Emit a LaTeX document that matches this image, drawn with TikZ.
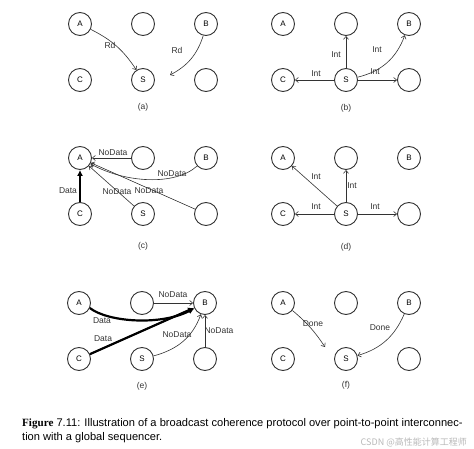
\documentclass[tikz,border=0pt]{standalone}
\usepackage{fontspec}
\setmainfont{Liberation Sans}
\newfontfamily\capserif{Liberation Serif}
\newfontfamily\cjk{Noto Sans CJK SC}
\usetikzlibrary{arrows.meta}
\definecolor{ink}{HTML}{333333}
\definecolor{mark}{HTML}{B8B8B8}

\begin{document}
\begin{tikzpicture}[x=1pt,y=-1pt,
    site/.style={draw=ink,circle,line width=0.9pt,minimum size=23pt,inner sep=0pt,font=\fontsize{8}{9}\selectfont},
    msg/.style={draw=ink,line width=0.6pt,-{Straight Barb[length=3pt,width=5pt]}},
    bigmsg/.style={draw=black,line width=2.2pt,-{Latex[length=6pt,width=6pt]}},
    lbl/.style={text=ink,inner sep=0pt,font=\fontsize{8.5}{10}\selectfont},
    paneltag/.style={text=ink,font=\fontsize{8.5}{10}\selectfont}]
  \useasboundingbox (0,0) rectangle (474,449);

  % six panels of sites
  \foreach \p/\x/\y/\t in {a/80/24/107, b/283/24/108, c/80/158/246, d/283/158/247, e/79/303/386, f/283/303/385} {
    \node[site] (\p A) at (\x,\y) {A};
    \node[site] (\p T) at (\x+63,\y) {};
    \node[site] (\p B) at (\x+126,\y) {B};
    \node[site] (\p C) at (\x,\y+56) {C};
    \node[site] (\p S) at (\x+63,\y+56) {S};
    \node[site] (\p R) at (\x+126,\y+56) {};
    \node[paneltag] (\p tag) at (\x+63,\t) {(\p)};
  }

  % (a) reads
  \coordinate (aend) at (170,75);
  \draw[msg] (aA) to[bend left=15] (aS);
  \draw[msg] (aB) to[bend left=22] (aend);
  \node[lbl] (aRd1) at (110,45) {Rd};
  \node[lbl] (aRd2) at (177,50) {Rd};

  % (b) sequencer interrupts
  \draw[msg] (bS) -- (bT);
  \draw[msg] (bS) -- (bC);
  \draw[msg] (bS) -- (bR);
  \draw[msg] (bS) to[bend right=28] (bB);
  \node[lbl] (bInt1) at (336,55) {Int};
  \node[lbl] (bInt2) at (377,50) {Int};
  \node[lbl] (bInt3) at (316,74) {Int};
  \node[lbl] (bInt4) at (375,72) {Int};

  % (c) replies to A
  \draw[bigmsg] (cC) -- (cA);
  \draw[msg] (cT) -- (cA);
  \draw[msg] (cB) .. controls (175,186) and (125,183) .. (cA);
  \draw[msg] (cS) -- (cA);
  \draw[msg] (cR) -- (cA);
  \node[lbl] (cND1) at (113,153) {NoData};
  \node[lbl] (cND2) at (172,174) {NoData};
  \node[lbl] (cData) at (68,191) {Data};
  \node[lbl] (cND3) at (117,192) {NoData};
  \node[lbl] (cND4) at (149,191) {NoData};

  % (d) sequencer interrupts
  \draw[msg] (dS) -- (dA);
  \draw[msg] (dS) -- (dT);
  \draw[msg] (dS) -- (dC);
  \draw[msg] (dS) -- (dR);
  \node[lbl] (dInt1) at (316,177) {Int};
  \node[lbl] (dInt2) at (352,186) {Int};
  \node[lbl] (dInt3) at (316,207) {Int};
  \node[lbl] (dInt4) at (375,207) {Int};

  % (e) replies to B
  \draw[bigmsg] (eA.-25) .. controls (108,322) and (160,326) .. (eB);
  \draw[bigmsg] (eC) -- (eB);
  \draw[msg] (eT) -- (eB);
  \draw[msg] (eS) to[out=15,in=250] (eB);
  \draw[msg] (eR) -- (eB);
  \node[lbl] (eND1) at (173,295) {NoData};
  \node[lbl] (eData1) at (102,321) {Data};
  \node[lbl] (eData2) at (103,339) {Data};
  \node[lbl] (eND2) at (177,335) {NoData};
  \node[lbl] (eND3) at (219,331) {NoData};

  % (f) done
  \coordinate (fend) at (325,347);
  \draw[msg] (fA) to[bend left=8] (fend);
  \draw[msg] (fB) to[bend left=25] (fS);
  \node[lbl] (fDone1) at (313,324) {Done};
  \node[lbl] (fDone2) at (380,328) {Done};

  % caption
  \node[anchor=base west,inner sep=0pt,font=\fontsize{11.1}{14}\selectfont] (cap1) at (22,426)
    {{\capserif\bfseries Figure} 7.11: Illustration of a broadcast coherence protocol over point-to-point interconnec-};
  \node[anchor=base west,inner sep=0pt,font=\fontsize{11.1}{14}\selectfont] (cap2) at (22,440)
    {tion with a global sequencer.};
  \node[anchor=base east,inner sep=0pt,text=mark,font=\cjk\fontsize{9}{10}\selectfont] (wmark) at (467,445)
    {CSDN @高性能计算工程师};
\end{tikzpicture}
\end{document}
